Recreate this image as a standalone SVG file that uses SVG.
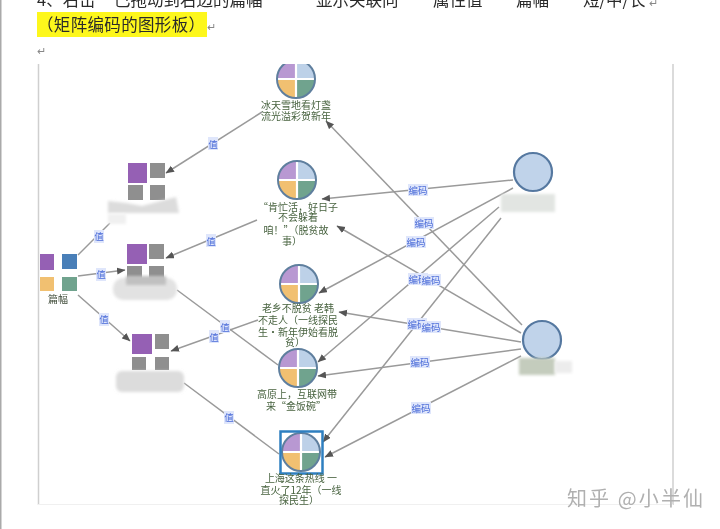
<svg xmlns="http://www.w3.org/2000/svg" xmlns:xlink="http://www.w3.org/1999/xlink" width="720" height="529" viewBox="0 0 720 529">
<style>
text{font-family:"Noto Sans CJK SC","Liberation Sans",sans-serif}
.doc{font-size:16.5px;fill:#2c2c2c}
.ret{font-size:11px;fill:#888}
.nl{font-size:10px;fill:#47623f;text-anchor:middle}
.el{font-size:9.5px;fill:#4a6bd8;text-anchor:middle}
.elb{fill:#dfe6fb}
.c{fill:none;stroke:#9a9a9a;stroke-width:1.5}
.a{marker-end:url(#ah)}
.g{fill:#8f8f8f}
.p{fill:#9560b4}
.blur{filter:url(#bl)}
.soft{filter:url(#sf)}
</style>
<defs>
<marker id="ah" markerWidth="9" markerHeight="8" refX="8" refY="3.5" orient="auto" markerUnits="userSpaceOnUse"><path d="M0,0L8.5,3.5L0,7Z" fill="#555"/></marker>
<filter id="bl" x="-20%" y="-20%" width="140%" height="140%"><feGaussianBlur stdDeviation="1.5"/></filter>
<filter id="sf" x="-5%" y="-5%" width="110%" height="110%"><feGaussianBlur stdDeviation="0.35"/></filter>
<clipPath id="top"><rect x="0" y="64" width="720" height="465"/></clipPath>
<g id="pie">
<circle r="19" fill="#fff"/>
<path d="M0,0V-19A19,19 0 0 0 -19,0Z" fill="#b898d2"/>
<path d="M0,0V-19A19,19 0 0 1 19,0Z" fill="#bdd1e8"/>
<path d="M0,0H-19A19,19 0 0 0 0,19Z" fill="#f1c071"/>
<path d="M0,0H19A19,19 0 0 1 0,19Z" fill="#6fa38e"/>
<path d="M-19,0H19M0,-19V19" stroke="#fff" stroke-width="2.2"/>
<circle r="19" fill="none" stroke="#5f7f9e" stroke-width="2"/>
</g>
</defs>
<rect width="720" height="529" fill="#fff"/>
<rect x="0" y="0" width="1.5" height="529" fill="#aaa"/>
<g class="soft">
<rect x="37" y="12" width="170" height="25" fill="#fdf71c"/>
<text class="doc" x="37" y="6">4、右击</text>
<text class="doc" x="114" y="6">已拖动到右边的篇幅</text>
<text class="doc" x="316" y="6">显示关联向</text>
<text class="doc" x="433" y="6">属性值</text>
<text class="doc" x="516" y="6">篇幅</text>
<text class="doc" x="583" y="6">短/中/长</text>
<text class="ret" x="649" y="7">↵</text>
<text class="doc" x="37" y="31" textLength="168">（矩阵编码的图形板）</text>
<text class="ret" x="207" y="31">↵</text>
<text class="ret" x="37" y="55">↵</text>
</g>
<path d="M38.500,64V505M673,64V505" fill="none" stroke="#cfcfcf" stroke-width="1.500"/>
<path d="M38,504.500H673" fill="none" stroke="#f0f0f0"/>
<g id="connectors" class="soft">
<path class="c a" d="M262,112L166,173"/>
<path class="c a" d="M257,220L166,258"/>
<path class="c a" d="M258,320L171,351"/>
<path class="c" d="M78,255L110,223"/>
<path class="c a" d="M78,276L125,270"/>
<path class="c a" d="M78,295L130,341"/>
<path class="c" d="M177,290L278,365"/>
<path class="c" d="M184,383L279,454"/>
<path class="c a" d="M513,180L322,199"/>
<path class="c a" d="M513,188L319,293"/>
<path class="c a" d="M499,207L318,362"/>
<path class="c a" d="M501,218L323,442"/>
<path class="c a" d="M522,325L326,121"/>
<path class="c a" d="M521,333L337,226"/>
<path class="c a" d="M521,342L339,312"/>
<path class="c a" d="M521,349L318,376"/>
<path class="c a" d="M521,356L325,457"/>
<g>
<rect class="elb" x="208" y="137" width="10" height="13"/><text class="el" x="213" y="148">值</text>
<rect class="elb" x="206" y="234" width="10" height="13"/><text class="el" x="211" y="245">值</text>
<rect class="elb" x="209" y="330" width="10" height="13"/><text class="el" x="214" y="341">值</text>
<rect class="elb" x="94" y="230" width="10" height="13"/><text class="el" x="99" y="240">值</text>
<rect class="elb" x="96" y="268" width="10" height="13"/><text class="el" x="101" y="278">值</text>
<rect class="elb" x="99" y="313" width="10" height="13"/><text class="el" x="104" y="323">值</text>
<rect class="elb" x="220" y="320" width="10" height="13"/><text class="el" x="225" y="331">值</text>
<rect class="elb" x="224" y="411" width="10" height="13"/><text class="el" x="229" y="421">值</text>
<rect class="elb" x="408" y="184" width="20" height="12"/><text class="el" x="418" y="194">编码</text>
<rect class="elb" x="406" y="236" width="20" height="12"/><text class="el" x="416" y="246">编码</text>
<rect class="elb" x="408" y="273" width="20" height="12"/><text class="el" x="418" y="283">编码</text>
<rect class="elb" x="407" y="318" width="20" height="12"/><text class="el" x="417" y="328">编码</text>
<rect class="elb" x="414" y="217" width="20" height="12"/><text class="el" x="424" y="227">编码</text>
<rect class="elb" x="421" y="274" width="20" height="12"/><text class="el" x="431" y="284">编码</text>
<rect class="elb" x="421" y="321" width="20" height="12"/><text class="el" x="431" y="331">编码</text>
<rect class="elb" x="410" y="356" width="20" height="12"/><text class="el" x="420" y="366">编码</text>
<rect class="elb" x="411" y="402" width="20" height="12"/><text class="el" x="421" y="412">编码</text>
</g>
</g>
<g id="matrix" class="soft">
<rect x="40" y="254" width="14" height="16" fill="#9560b4"/>
<rect x="62" y="254" width="15" height="15" fill="#4a7fb8"/>
<rect x="40" y="277" width="14" height="14" fill="#f1c071"/>
<rect x="62" y="277" width="15" height="14" fill="#6fa38e"/>
<text class="nl" x="58" y="303" style="fill:#3d4a38">篇幅</text>
</g>
<g id="node-a" class="soft">
<rect class="p" x="128" y="163" width="19" height="20"/>
<rect class="g" x="150" y="163" width="15" height="15"/>
<rect class="g" x="128" y="185" width="15" height="15"/>
<rect class="g" x="150" y="185" width="15" height="15"/>
<path class="blur" d="M108,201L126,203L142,206L176,197L179,213L108,213Z" fill="#dcdcdc"/>
<rect class="blur" x="108" y="214" width="18" height="10" fill="#f0f0f0"/>
</g>
<g id="node-b" class="soft">
<rect class="p" x="127" y="244" width="20" height="20"/>
<rect class="g" x="149" y="244" width="15" height="15"/>
<rect class="g" x="127" y="266" width="15" height="14"/>
<rect class="g" x="149" y="266" width="15" height="14"/>
<rect class="blur" x="113" y="278" width="64" height="22" rx="10" fill="#e2e2e2"/>
<rect x="126" y="276" width="40" height="9" fill="#c0c0c0" class="blur"/>
</g>
<g id="node-c" class="soft">
<rect class="p" x="132" y="334" width="20" height="20"/>
<rect class="g" x="155" y="334" width="14" height="15"/>
<rect class="g" x="132" y="357" width="14" height="13"/>
<rect class="g" x="155" y="357" width="14" height="13"/>
<rect class="blur" x="116" y="371" width="68" height="21" rx="6" fill="#dcdcdc"/>
</g>
<g id="pie-1" class="soft">
<g clip-path="url(#top)"><use href="#pie" xlink:href="#pie" x="296" y="79"/></g>
<text class="nl" x="296" y="109">冰天雪地看灯盏</text>
<text class="nl" x="296" y="120">流光溢彩贺新年</text>
</g>
<g id="pie-2" class="soft">
<use href="#pie" xlink:href="#pie" x="297" y="180"/>
<text class="nl" x="298" y="211">“肯忙活，好日子</text>
<text class="nl" x="298" y="221">不会躲着</text>
<text class="nl" x="296" y="234">咱！”（脱贫故</text>
<text class="nl" x="292" y="245">事）</text>
</g>
<g id="pie-3" class="soft">
<use href="#pie" xlink:href="#pie" x="299" y="284"/>
<text class="nl" x="298" y="312">老乡不脱贫 老韩</text>
<text class="nl" x="298" y="324">不走人（一线探民</text>
<text class="nl" x="298" y="336">生·新年伊始看脱</text>
<text class="nl" x="295" y="346">贫）</text>
</g>
<g id="pie-4" class="soft">
<use href="#pie" xlink:href="#pie" x="298" y="368"/>
<text class="nl" x="297" y="398">高原上，互联网带</text>
<text class="nl" x="296" y="410">来“金饭碗”</text>
</g>
<g id="pie-5" class="soft">
<use href="#pie" xlink:href="#pie" x="301" y="452"/>
<rect x="280.500" y="431.500" width="42" height="42" fill="none" stroke="#2f7fc0" stroke-width="2.500"/>
<text class="nl" x="301" y="482">上海这条热线 一</text>
<text class="nl" x="301" y="494">直火了12年（一线</text>
<text class="nl" x="299" y="504">探民生）</text>
</g>
<g id="source-1" class="soft">
<circle cx="533" cy="172" r="19" fill="#c0d3ea" stroke="#5578a0" stroke-width="2.200"/>
<rect class="blur" x="501" y="194" width="54" height="18" fill="#e2e5e2"/>
</g>
<g id="source-2" class="soft">
<circle cx="542" cy="340" r="19" fill="#c0d3ea" stroke="#5578a0" stroke-width="2.200"/>
<rect class="blur" x="519" y="358" width="36" height="17" fill="#c4ccbd"/>
<rect class="blur" x="555" y="361" width="17" height="12" fill="#ececec"/>
</g>
<g id="watermark" class="soft">
<text x="567" y="506" font-size="20" fill="#b0b0b0" textLength="136">知乎 @小半仙</text>
</g>
</svg>
